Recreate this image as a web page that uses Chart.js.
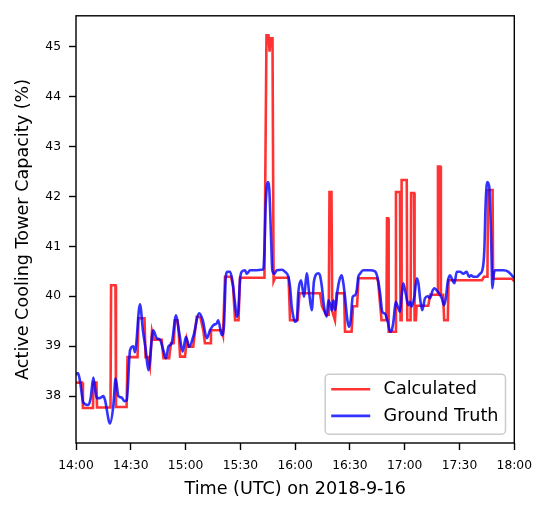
<!DOCTYPE html>
<html>
<head>
<meta charset="utf-8">
<script src="https://cdn.jsdelivr.net/npm/chart.js@4.4.1/dist/chart.umd.min.js"></script>
<style>
  html, body { margin: 0; padding: 0; background: #fff; }
  canvas { display: block; }
</style>
</head>
<body>
<canvas id="c" width="550" height="515"></canvas>
<script>
// ---- data (minutes after 14:00 UTC, value in %) ----
const calcTimes = [0,3.3,3.8,9.3,9.6,11.2,11.5,18.9,19.2,21.6,21.9,27.7,28.2,33.7,34.2,37.5,38.1,39.6,40.5,41.6,42.7,46.9,47.9,51.0,52.0,53.5,54.2,55.5,56.2,57.0,59.7,60.6,61.5,64.2,66.1,68.0,69.7,70.6,73.4,73.9,79.8,80.5,81.6,84.9,86.0,87.1,89.0,89.8,103.2,104.3,105.4,106.0,106.5,107.6,108.2,109.0,116.4,117.2,121.3,122.4,133.6,134.7,136.9,138.4,138.8,139.9,140.3,141.8,142.7,146.8,147.3,150.9,151.7,153.9,154.7,164.8,165.4,167.3,170.0,170.3,170.9,171.2,174.7,175.2,177.4,177.7,178.0,178.3,181.1,181.4,183.2,183.5,185.1,185.4,186.1,186.5,192.9,193.9,197.9,198.2,199.5,199.8,201.0,201.6,203.6,204.0,222.3,223.4,225.3,225.6,228.1,228.4,238.8,240];
const calcValues = [38.27,38.27,37.76,37.76,38.27,38.27,37.77,37.77,40.22,40.22,37.78,37.78,38.78,38.78,39.56,39.56,38.78,38.78,38.6,39.3,39.13,39.13,38.76,38.76,39.06,39.06,39.52,39.52,39.3,38.79,38.79,39.13,38.99,38.99,39.59,39.59,39.32,39.06,39.06,39.32,39.32,39.22,40.39,40.39,40.2,39.52,39.52,40.37,40.37,45.23,45.23,44.9,45.17,45.17,40.3,40.37,40.37,39.52,39.52,40.06,40.06,39.8,39.63,39.63,42.09,42.09,39.7,39.52,40.06,40.06,39.29,39.29,39.8,39.8,40.36,40.36,40.3,39.52,39.52,41.56,41.56,39.29,39.29,42.09,42.09,39.52,39.52,42.33,42.33,39.52,39.52,42.07,42.07,39.52,39.52,39.81,39.81,40.03,40.03,42.6,42.6,40.03,40.03,39.52,39.52,40.32,40.32,40.39,40.39,42.13,42.13,40.35,40.35,40.3];

const truthTimes = [0,1.1,2.2,4.0,6.7,8.0,9.5,11.3,13.1,15.0,15.9,18.6,20.4,21.7,23.2,25.0,26.5,27.8,29.6,31.4,32.3,35.0,36.7,38.1,39.6,42.3,44.2,46.0,47.8,49.3,50.6,52.4,54.8,56.6,58.4,60.2,62.0,64.2,67.5,69.4,71.6,73.4,75.2,77.1,77.9,79.8,81.0,82.1,82.9,84.3,85.6,87.1,88.0,88.9,89.8,90.7,92.6,93.5,95.3,98.0,101.7,102.6,103.1,103.9,105.0,105.9,106.8,107.5,108.6,109.9,112.7,114.5,116.3,117.2,118.1,119.0,119.9,120.9,121.7,123.2,124.9,126.3,127.8,129.1,130.3,132.7,133.6,134.6,135.8,137.3,138.2,139.1,140.1,141.0,141.9,143.2,144.2,145.5,146.4,147.3,148.6,149.5,150.4,151.5,152.8,153.7,154.6,155.5,157.3,161.0,163.7,165.0,166.5,167.7,169.2,170.7,172.0,172.9,173.8,175.1,176.2,177.4,178.3,179.2,180.5,182.0,182.9,183.8,185.3,186.6,187.5,188.4,189.6,191.1,192.6,193.9,195.1,196.2,197.5,198.8,200.3,201.5,202.5,203.6,204.8,205.7,207.2,208.5,210.3,212.1,213.9,215.2,216.3,217.6,219.4,221.2,222.5,223.6,224.3,225.2,226.3,227.3,228.0,228.8,229.5,231.3,234.0,236.8,238.6,240.0];
const truthValues = [38.43,38.46,38.3,37.87,37.82,37.95,38.37,37.96,37.96,38.0,37.92,37.45,37.79,38.35,38.0,37.97,37.9,37.92,38.92,39.0,38.88,39.84,39.3,38.95,38.52,39.32,39.16,39.13,38.92,38.76,38.99,39.06,39.62,39.25,38.89,39.19,38.99,39.19,39.66,39.52,39.16,39.32,39.42,39.46,39.52,39.22,39.4,40.42,40.49,40.49,40.32,39.85,39.59,39.72,40.32,40.49,40.52,40.45,40.52,40.52,40.53,40.55,40.86,41.86,42.29,42.1,41.19,40.52,40.45,40.52,40.53,40.49,40.39,40.19,39.8,39.59,39.49,39.52,40.06,40.32,39.99,40.46,40.02,39.72,40.3,40.46,40.42,40.2,39.8,39.59,39.92,39.85,39.72,39.92,39.72,40.12,40.32,40.42,40.26,39.99,39.52,39.39,39.52,39.99,40.02,40.12,40.39,40.45,40.52,40.52,40.5,40.39,40.06,39.69,39.65,39.49,39.29,39.32,39.49,39.89,39.79,39.69,40.0,40.26,40.06,39.82,39.89,39.79,40.0,40.36,40.26,39.96,39.72,39.96,40.0,39.96,40.1,40.16,40.12,40.06,39.96,39.82,39.96,40.3,40.42,40.36,40.26,40.49,40.49,40.45,40.49,40.39,40.42,40.39,40.39,40.45,40.52,40.93,41.86,42.29,42.19,41.19,40.16,40.45,40.52,40.52,40.52,40.49,40.42,40.37];

const seriesLabels = ['Calculated', 'Ground Truth'];
const xTickMinutes = [0, 30, 60, 90, 120, 150, 180, 210, 240];
const xTickLabels = ['14:00','14:30','15:00','15:30','16:00','16:30','17:00','17:30','18:00'];
const yTicks = [38, 39, 40, 41, 42, 43, 44, 45];

// ---- chart ----
const FONT = "'DejaVu Sans', 'Liberation Sans', sans-serif";
Chart.defaults.font.family = FONT;
Chart.defaults.color = '#000';

const toPoints = (ts, vs) => ts.map((t, i) => ({ x: t, y: vs[i] }));

const framePlugin = {
  id: 'frame',
  afterDatasetsDraw(chart) {
    const { ctx, chartArea: a } = chart;
    ctx.save();
    ctx.strokeStyle = '#000';
    ctx.lineWidth = 1.4;
    ctx.strokeRect(a.left, a.top, a.right - a.left, a.bottom - a.top);
    ctx.restore();
  }
};

const legendPlugin = {
  id: 'boxLegend',
  afterDraw(chart) {
    const { ctx, chartArea: a } = chart;
    const fs = 17.6;
    ctx.save();
    ctx.font = fs + 'px ' + FONT;
    const ds = chart.data.datasets;
    const tw = Math.max(...ds.map(d => ctx.measureText(d.label).width));
    const w = 58.4 + tw + 7;
    const h = 60;
    const right = a.right - 8.8, bottom = a.bottom - 8.8;
    const left = right - w, top = bottom - h;
    ctx.beginPath();
    if (ctx.roundRect) ctx.roundRect(left, top, w, h, 4); else ctx.rect(left, top, w, h);
    ctx.fillStyle = 'rgba(255,255,255,0.8)';
    ctx.fill();
    ctx.strokeStyle = '#cccccc';
    ctx.lineWidth = 1.5;
    ctx.stroke();
    ds.forEach((d, i) => {
      const y = top + 15 + i * 26.7;
      ctx.beginPath();
      ctx.moveTo(left + 6, y);
      ctx.lineTo(left + 45, y);
      ctx.strokeStyle = d.borderColor;
      ctx.lineWidth = 2.6;
      ctx.stroke();
      ctx.fillStyle = '#000';
      ctx.textBaseline = 'middle';
      ctx.textAlign = 'left';
      ctx.fillText(d.label, left + 58.4, y + 0.5);
    });
    ctx.restore();
  }
};

new Chart(document.getElementById('c'), {
  type: 'line',
  data: {
    datasets: [
      {
        label: seriesLabels[0],
        data: toPoints(calcTimes, calcValues),
        borderColor: 'rgba(255,0,0,0.8)',
        borderWidth: 2.6,
        pointRadius: 0,
        tension: 0,
        fill: false,
        order: 1
      },
      {
        label: seriesLabels[1],
        data: toPoints(truthTimes, truthValues),
        borderColor: 'rgba(0,0,255,0.8)',
        borderWidth: 2.6,
        pointRadius: 0,
        cubicInterpolationMode: 'monotone',
        fill: false,
        order: 0
      }
    ]
  },
  options: {
    responsive: false,
    animation: false,
    devicePixelRatio: 1,
    layout: { padding: { left: 0, right: 35.7, top: 15.8, bottom: 0 } },
    plugins: { legend: { display: false }, tooltip: { enabled: false } },
    scales: {
      x: {
        type: 'linear',
        min: 0,
        max: 240,
        afterBuildTicks: s => { s.ticks = xTickMinutes.map(v => ({ value: v })); },
        afterFit: s => { s.height = 72; },
        border: { display: false },
        grid: { display: true, drawOnChartArea: false, drawTicks: true, tickLength: 7, tickColor: '#000', tickWidth: 1.4 },
        ticks: {
          autoSkip: false, maxRotation: 0, padding: 8,
          font: { size: 12.3 }, color: '#000',
          callback: v => xTickLabels[xTickMinutes.indexOf(v)]
        },
        title: { display: true, text: 'Time (UTC) on 2018-9-16', font: { size: 17.6 }, color: '#000', padding: { top: 0, bottom: 15.4 } }
      },
      y: {
        type: 'linear',
        min: 37.06,
        max: 45.62,
        afterBuildTicks: s => { s.ticks = yTicks.map(v => ({ value: v })); },
        afterFit: s => { s.width = 76; },
        border: { display: false },
        grid: { display: true, drawOnChartArea: false, drawTicks: true, tickLength: 7, tickColor: '#000', tickWidth: 1.4 },
        ticks: { padding: 8, font: { size: 12.3 }, color: '#000', callback: v => String(v) },
        title: { display: true, text: 'Active Cooling Tower Capacity (%)', font: { size: 17.6 }, color: '#000', padding: { top: 12.7, bottom: 0 } }
      }
    }
  },
  plugins: [framePlugin, legendPlugin]
});
</script>
</body>
</html>
